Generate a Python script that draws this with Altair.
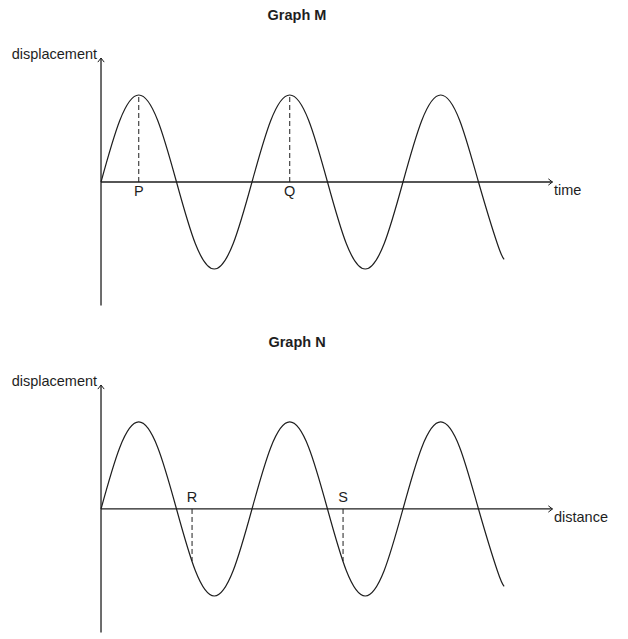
import altair as alt
import pandas as pd

# ---- data (x in wave periods, y in amplitudes) ----
wave_t = [0, 0.125, 0.25, 0.375, 0.5, 0.625, 0.75, 0.875,
          1.0, 1.125, 1.25, 1.375, 1.5, 1.625, 1.75, 1.875,
          2.0, 2.125, 2.25, 2.375, 2.5, 2.625, 2.67]
wave_y = [0, 0.71, 1, 0.71, 0, -0.71, -1, -0.71,
          0, 0.71, 1, 0.71, 0, -0.71, -1, -0.71,
          0, 0.71, 1, 0.71, 0, -0.71, -0.89]

titles = ["Graph M", "Graph N"]
x_labels = ["time", "distance"]
y_label = "displacement"

m_marker_t = [0.25, 1.25]
m_marker_end = [1.0, 1.0]
m_marker_labels = ["P", "Q"]
m_label_y = -0.12

n_marker_t = [0.603, 1.603]
n_marker_end = [-0.60, -0.60]
n_marker_labels = ["R", "S"]
n_label_y = 0.126

y_axis_top = 1.425
y_axis_bottom = -1.42
x_axis_end = 2.99

# plot domains (chosen so both panels share the same drawing frame)
XL, XR = -0.616, 3.424
M_dom = [-1.632, 1.954]
N_dom = [-1.460, 2.126]

FONT = "Liberation Sans"
INK = "#1e1e1e"
W, H = 610, 312


def panel(title, xlab, mt, mend, mlabels, mlaby, ydom):
    xs = alt.Scale(domain=[XL, XR], nice=False, zero=False)
    ys = alt.Scale(domain=ydom, nice=False, zero=False)

    wave = pd.DataFrame({"t": wave_t, "y": wave_y})
    line = alt.Chart(wave).mark_line(
        interpolate="natural", color=INK, strokeWidth=1.2
    ).encode(x=alt.X("t:Q", scale=xs, axis=None),
             y=alt.Y("y:Q", scale=ys, axis=None))

    axes_df = pd.DataFrame({
        "x1": [0, 0], "x2": [0, x_axis_end],
        "y1": [y_axis_bottom, 0], "y2": [y_axis_top, 0],
    })
    axes = alt.Chart(axes_df).mark_rule(color=INK, strokeWidth=1.3).encode(
        x=alt.X("x1:Q", scale=xs, axis=None), x2="x2:Q",
        y=alt.Y("y1:Q", scale=ys, axis=None), y2="y2:Q")

    arrows_df = pd.DataFrame({"x": [0, x_axis_end], "y": [y_axis_top, 0],
                              "ang": [0, 90]})
    arrows = alt.Chart(arrows_df).mark_point(
        shape="M-1,1.3L0,0L1,1.3", filled=False, color=INK,
        strokeWidth=1, size=40, opacity=1
    ).encode(x=alt.X("x:Q", scale=xs, axis=None),
             y=alt.Y("y:Q", scale=ys, axis=None),
             angle=alt.Angle("ang:Q", scale=None))

    dash_df = pd.DataFrame({"t": mt, "y0": [0] * len(mt), "y1": mend})
    dashes = alt.Chart(dash_df).mark_rule(
        color=INK, strokeWidth=1, strokeDash=[5, 3]
    ).encode(x=alt.X("t:Q", scale=xs, axis=None),
             y=alt.Y("y0:Q", scale=ys, axis=None), y2="y1:Q")

    lab_df = pd.DataFrame({"t": mt, "y": [mlaby] * len(mt), "s": mlabels})
    labs = alt.Chart(lab_df).mark_text(
        font=FONT, fontSize=14.5, color=INK, align="center", baseline="middle"
    ).encode(x=alt.X("t:Q", scale=xs, axis=None),
             y=alt.Y("y:Q", scale=ys, axis=None), text="s:N")

    title_df = pd.DataFrame({"t": [1.298], "y": [1.86], "s": [title]})
    ttl = alt.Chart(title_df).mark_text(
        font=FONT, fontSize=14.5, fontWeight="bold", color=INK,
        align="center", baseline="alphabetic"
    ).encode(x=alt.X("t:Q", scale=xs, axis=None),
             y=alt.Y("y:Q", scale=ys, axis=None), text="s:N")

    yl_df = pd.DataFrame({"t": [-0.026], "y": [1.41], "s": [y_label]})
    yl = alt.Chart(yl_df).mark_text(
        font=FONT, fontSize=14.5, color=INK, align="right", baseline="alphabetic"
    ).encode(x=alt.X("t:Q", scale=xs, axis=None),
             y=alt.Y("y:Q", scale=ys, axis=None), text="s:N")

    xl_df = pd.DataFrame({"t": [3.0], "y": [-0.10], "s": [xlab]})
    xl = alt.Chart(xl_df).mark_text(
        font=FONT, fontSize=14.5, color=INK, align="left", baseline="middle"
    ).encode(x=alt.X("t:Q", scale=xs, axis=None),
             y=alt.Y("y:Q", scale=ys, axis=None), text="s:N")

    return alt.layer(axes, arrows, dashes, line, labs, ttl, yl, xl).properties(
        width=W, height=H)


top = panel(titles[0], x_labels[0], m_marker_t, m_marker_end,
            m_marker_labels, m_label_y, M_dom)
bottom = panel(titles[1], x_labels[1], n_marker_t, n_marker_end,
               n_marker_labels, n_label_y, N_dom)

chart = alt.vconcat(top, bottom, spacing=0).properties(
    padding=0, background="white"
).configure_view(stroke=None)

chart.save("out.html", embed_options={"renderer": "svg", "actions": False})
